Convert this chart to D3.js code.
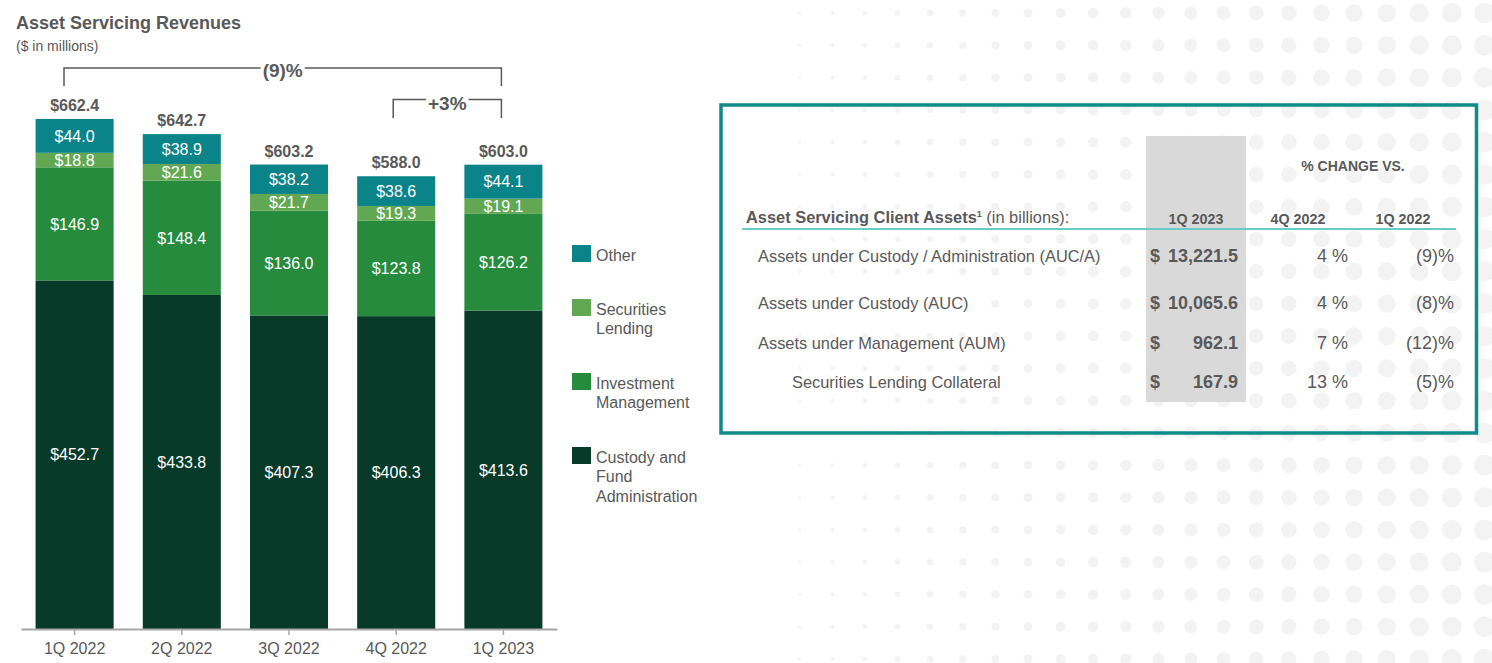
<!DOCTYPE html>
<html>
<head>
<meta charset="utf-8">
<script src="https://cdn.jsdelivr.net/npm/d3@7/dist/d3.min.js"></script>
<style>
  html, body { margin: 0; padding: 0; background: #ffffff; }
  svg { display: block; font-family: "Liberation Sans", Arial, sans-serif; }
</style>
</head>
<body>
<svg id="chart" width="1492" height="663"></svg>
<script>
// ---------- DATA ----------
const quarters   = ["1Q 2022", "2Q 2022", "3Q 2022", "4Q 2022", "1Q 2023"];
const custody    = [452.7, 433.8, 407.3, 406.3, 413.6];
const investment = [146.9, 148.4, 136.0, 123.8, 126.2];
const secLending = [18.8, 21.6, 21.7, 19.3, 19.1];
const other      = [44.0, 38.9, 38.2, 38.6, 44.1];
const totals     = [662.4, 642.7, 603.2, 588.0, 603.0];

const seriesNames  = ["Custody and Fund Administration", "Investment Management", "Securities Lending", "Other"];
const legendLines  = [["Other"], ["Securities", "Lending"], ["Investment", "Management"], ["Custody and", "Fund", "Administration"]];
const legendKeys   = ["Other", "Securities Lending", "Investment Management", "Custody and Fund Administration"];

const brackets = [
  { from: 0, to: 4, label: "(9)%" },
  { from: 3, to: 4, label: "+3%" }
];

const tableTitleBold = "Asset Servicing Client Assets";
const tableTitleRest = " (in billions):";
const tableCols   = ["1Q 2023", "4Q 2022", "1Q 2022"];
const tableRows   = ["Assets under Custody / Administration (AUC/A)", "Assets under Custody (AUC)", "Assets under Management (AUM)", "Securities Lending Collateral"];
const tableValues = ["13,221.5", "10,065.6", "962.1", "167.9"];
const chgVs4Q     = ["4 %", "4 %", "7 %", "13 %"];
const chgVs1Q     = ["(9)%", "(8)%", "(12)%", "(5)%"];

// ---------- SETUP ----------
const svg = d3.select("#chart");
const gray = "#595959";
const colors = {
  "Custody and Fund Administration": "#083a2a",
  "Investment Management": "#268b3d",
  "Securities Lending": "#62a853",
  "Other": "#0a8389"
};

// ---------- DOT BACKGROUND ----------
const dotG = svg.append("g");
const dotCols = d3.range(-7, 15).map(j => 1028 + j * 32.6);
const dotRows = d3.range(0, 21).map(k => 13 + k * 32.3);
dotRows.forEach(y => {
  dotCols.forEach(x => {
    const r = Math.max(0.8, 1.5 + (x - 797) * 0.0129);
    dotG.append("circle").attr("cx", x).attr("cy", y).attr("r", r).attr("fill", "#f3f3f3");
  });
});

// ---------- TITLE ----------
svg.append("text").attr("x", 16).attr("y", 29)
  .attr("font-size", 18).attr("font-weight", "bold").attr("fill", gray)
  .text("Asset Servicing Revenues");
svg.append("text").attr("x", 16).attr("y", 51)
  .attr("font-size", 14).attr("fill", gray)
  .text("($ in millions)");

// ---------- SCALES ----------
const x = d3.scaleBand().domain(quarters).range([21, 557]).paddingInner(0.272).paddingOuter(0.136);
const y = d3.scaleLinear().domain([0, 700]).range([629, 90]);

const table = quarters.map((q, i) => ({
  q,
  "Custody and Fund Administration": custody[i],
  "Investment Management": investment[i],
  "Securities Lending": secLending[i],
  "Other": other[i],
  total: totals[i]
}));
const stack = d3.stack().keys(seriesNames)(table);

// ---------- BARS ----------
const layers = svg.append("g").selectAll("g").data(stack).join("g")
  .attr("fill", d => colors[d.key]);
layers.selectAll("rect").data(d => d).join("rect")
  .attr("x", d => x(d.data.q))
  .attr("width", x.bandwidth())
  .attr("y", d => y(d[1]))
  .attr("height", d => y(d[0]) - y(d[1]));

// segment labels
const lab = svg.append("g");
stack.forEach(layer => {
  layer.forEach(d => {
    lab.append("text")
      .attr("x", x(d.data.q) + x.bandwidth() / 2)
      .attr("y", (y(d[0]) + y(d[1])) / 2)
      .attr("dy", "0.36em")
      .attr("text-anchor", "middle")
      .attr("font-size", 16)
      .attr("fill", "#ffffff")
      .text("$" + (d[1] - d[0]).toFixed(1));
  });
});

// totals
svg.append("g").selectAll("text").data(table).join("text")
  .attr("x", d => x(d.q) + x.bandwidth() / 2)
  .attr("y", d => y(d.total) - 8)
  .attr("text-anchor", "middle")
  .attr("font-size", 16).attr("font-weight", "bold").attr("fill", gray)
  .text(d => "$" + d.total.toFixed(1));

// ---------- AXIS ----------
const axis = svg.append("g").attr("transform", "translate(0,629)")
  .call(d3.axisBottom(x).tickSize(6).tickPadding(8).tickSizeOuter(0));
axis.select(".domain").attr("stroke", "#a6a6a6").attr("stroke-width", 2);
axis.selectAll(".tick line").attr("stroke", "#a6a6a6").attr("stroke-width", 1.5);
axis.selectAll(".tick text").attr("font-size", 16).attr("fill", gray)
  .attr("font-family", "'Liberation Sans', Arial, sans-serif");

// ---------- BRACKETS ----------
const bracketGeom = [
  { lx: -10.6, rx: -2, yl: 68, yb: 86, ty: 70 },
  { lx: -3, rx: -2, yl: 99.5, yb: 118, ty: 103 }
];
brackets.forEach((b, i) => {
  const g = bracketGeom[i];
  const x1 = x(quarters[b.from]) + x.bandwidth() / 2 + g.lx;
  const x2 = x(quarters[b.to]) + x.bandwidth() / 2 + g.rx;
  const mid = (x1 + x2) / 2;
  const t = svg.append("text").attr("x", mid).attr("y", g.ty).attr("dy", "0.36em")
    .attr("text-anchor", "middle").attr("font-size", 19).attr("font-weight", "bold")
    .attr("fill", gray).text(b.label);
  const w = t.node().getComputedTextLength();
  const path = d3.path();
  path.moveTo(x1, g.yb); path.lineTo(x1, g.yl); path.lineTo(mid - w / 2 - 2, g.yl);
  path.moveTo(mid + w / 2 + 2, g.yl); path.lineTo(x2, g.yl); path.lineTo(x2, g.yb);
  svg.append("path").attr("d", path.toString()).attr("fill", "none")
    .attr("stroke", gray).attr("stroke-width", 1.5);
});

// ---------- LEGEND ----------
const legendTops = [245, 299, 373, 447];
const lg = svg.append("g");
legendKeys.forEach((k, i) => {
  lg.append("rect").attr("x", 572).attr("y", legendTops[i]).attr("width", 19).attr("height", 17)
    .attr("fill", colors[k]);
  legendLines[i].forEach((ln, j) => {
    lg.append("text").attr("x", 596).attr("y", legendTops[i] + 15.5 + j * 19.5)
      .attr("font-size", 16).attr("fill", gray).text(ln);
  });
});

// ---------- TABLE ----------
const tg = svg.append("g");
tg.append("rect").attr("x", 1146).attr("y", 136).attr("width", 100).attr("height", 266).attr("fill", "#d9d9d9");
tg.append("rect").attr("x", 721).attr("y", 105).attr("width", 755.5).attr("height", 328)
  .attr("fill", "none").attr("stroke", "#138a8a").attr("stroke-width", 3.5);

tg.append("text").attr("x", 1353).attr("y", 171).attr("text-anchor", "middle")
  .attr("font-size", 14).attr("font-weight", "bold").attr("fill", gray).text("% CHANGE VS.");

const ttl = tg.append("text").attr("x", 746).attr("y", 223).attr("font-size", 16.4).attr("fill", gray);
ttl.append("tspan").attr("font-weight", "bold").text(tableTitleBold);
ttl.append("tspan").attr("font-weight", "bold").attr("font-size", 9).attr("dy", -6).text("1");
ttl.append("tspan").attr("dy", 6).text(tableTitleRest);

const colCenters = [1196, 1298, 1403];
tableCols.forEach((c, i) => {
  tg.append("text").attr("x", colCenters[i]).attr("y", 224).attr("text-anchor", "middle")
    .attr("font-size", 14.3).attr("font-weight", "bold").attr("fill", gray).text(c);
});
tg.append("line").attr("x1", 742).attr("x2", 1456).attr("y1", 229).attr("y2", 229)
  .attr("stroke", "#6ccac7").attr("stroke-width", 1.8);

const rowCenters = [256, 303, 343, 382];
tableRows.forEach((r, i) => {
  const cy = rowCenters[i];
  tg.append("text").attr("x", i === 3 ? 792 : 758).attr("y", cy).attr("dy", "0.36em")
    .attr("font-size", 16.4).attr("fill", gray).text(r);
  tg.append("text").attr("x", 1150).attr("y", cy).attr("dy", "0.36em")
    .attr("font-size", 18).attr("font-weight", "bold").attr("fill", gray).text("$");
  tg.append("text").attr("x", 1238).attr("y", cy).attr("dy", "0.36em").attr("text-anchor", "end")
    .attr("font-size", 18).attr("font-weight", "bold").attr("fill", gray).text(tableValues[i]);
  tg.append("text").attr("x", 1348).attr("y", cy).attr("dy", "0.36em").attr("text-anchor", "end")
    .attr("font-size", 18).attr("fill", gray).text(chgVs4Q[i]);
  tg.append("text").attr("x", 1454).attr("y", cy).attr("dy", "0.36em").attr("text-anchor", "end")
    .attr("font-size", 18).attr("fill", gray).text(chgVs1Q[i]);
});
</script>
</body>
</html>
